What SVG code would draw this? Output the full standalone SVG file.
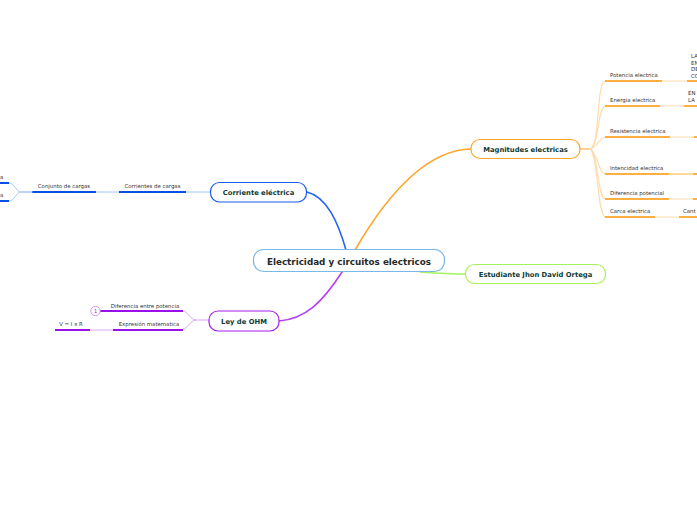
<svg xmlns="http://www.w3.org/2000/svg" width="697" height="520" viewBox="0 0 697 520">
<style>
text{font-family:"DejaVu Sans",Verdana,sans-serif}
.n{font-size:6.800px;font-weight:bold;fill:#0d3b36;text-anchor:middle}
.s{font-size:5.400px;fill:#333}
.m{text-anchor:middle}
.box{fill:#fff;stroke-width:1.2}
.c{fill:none;stroke-linecap:round}
.u{fill:none;stroke-width:2}
.l{fill:none;stroke-width:1}
.o{stroke:#ffaf40}.ol{stroke:#ffdcae}
.b{stroke:#0a50e6}.bl{stroke:#a9c4fb}
.p{stroke:#9a10e8}.pl{stroke:#d9a6f7}
</style>
<rect width="697" height="520" fill="#fff"/>
<g id="connectors">
<path class="c" d="M346 250C338 222 327 197 307 192" stroke="#2563f0" stroke-width="1.600"/>
<path class="c" d="M355 250C380 207 420 150 471 149" stroke="#ffa52b" stroke-width="1.600"/>
<path class="c" d="M342 272C322 303 305 319 279 321" stroke="#b341f5" stroke-width="1.600"/>
<path class="c" d="M420 272C435 273 450 274 465 274" stroke="#a5f25c" stroke-width="1.500"/>
<path class="c" d="M580 149H590" stroke="#ffa52b" stroke-width="1.200"/>
<g class="c ol" stroke-width="1.200">
<path d="M590 149C600 146 596 85 605 81"/>
<path d="M590 149C599 146 597 110 605 106"/>
<path d="M590 149C598 147 598 139 605 137"/>
<path d="M590 149C597 151 598 172 605 174"/>
<path d="M590 149C598 152 597 195 605 199"/>
<path d="M590 149C598 153 597 213 605 217"/>
</g>
<path class="u o" d="M605 81H662"/><path class="l ol" d="M662 81H687"/><path class="u o" d="M687 81H697"/>
<path class="u o" d="M605 106H660"/><path class="l ol" stroke-width="2" d="M660 106H684"/><path class="u o" d="M684 106H697"/>
<path class="u o" d="M605 137H670"/><path class="l ol" stroke-width="2" d="M670 137H694"/><path class="u o" d="M694 137H697"/>
<path class="u o" d="M605 174H669"/><path class="l o" d="M669 174H693"/><path class="u o" d="M693 174H697"/>
<path class="u o" d="M605 199H669"/><path class="l ol" stroke-width="2" d="M669 199H693"/><path class="u o" d="M693 199H697"/>
<path class="u o" d="M605 217H655"/><path class="l ol" stroke-width="2" d="M655 217H679"/><path class="u o" d="M679 217H697"/>
<path class="l bl" d="M186 192H210"/><path class="u b" d="M119 192H186"/>
<path class="l bl" d="M96 192H119"/><path class="u b" d="M32 192H96"/>
<path class="c bl" d="M32 192H21C16 192 15 183 9 183"/><path class="c bl" d="M32 192H21C16 192 15 201 9 201"/>
<path class="u b" d="M0 183H9"/><path class="u b" d="M0 201H9"/>
<path class="l pl" d="M209 320H196"/>
<path class="c pl" d="M196 320C190 320 188 311 183 311"/><path class="c pl" d="M196 320C190 320 188 329 183 329"/>
<path class="u p" d="M100 311H183"/><path class="u p" d="M113 330H183"/>
<path class="l pl" stroke-width="1.500" d="M90 330H113"/><path class="u p" d="M55 330H90"/>
</g>
<g id="central"><rect class="box" x="253.500" y="249.500" width="191" height="22" rx="10" stroke="#7ab8e8" stroke-width="2"/><text x="349" y="264.500" class="n" style="font-size:8.800px;fill:#1f2a2a">Electricidad y circuitos electricos</text></g>
<g id="corriente"><rect class="box" x="210.500" y="182.500" width="96" height="19.500" rx="9" stroke="#1a5cf0"/><text x="258.500" y="195" class="n">Corriente eléctrica</text></g>
<g id="magnitudes"><rect class="box" x="471" y="139.500" width="109" height="19" rx="9" stroke="#ffa52b"/><text x="525.500" y="152" class="n">Magnitudes electricas</text></g>
<g id="ley"><rect class="box" x="209" y="311" width="70" height="20" rx="9" stroke="#a51cf0"/><text x="244" y="324" class="n">Ley de OHM</text></g>
<g id="estudiante"><rect class="box" x="465.500" y="264.500" width="140" height="19" rx="9" stroke="#a5f25c"/><text x="535.500" y="277" class="n">Estudiante Jhon David Ortega</text></g>
<g id="potencia"><text class="s" x="610" y="77">Potencia electrica</text><text class="s" x="691" y="58">LA</text><text class="s" x="691" y="65">EN</text><text class="s" x="691" y="71">DE</text><text class="s" x="691" y="77.500">CO</text></g>
<g id="energia"><text class="s" x="610" y="102">Energia electrica</text><text class="s" x="688" y="95">EN</text><text class="s" x="688" y="102">LA</text></g>
<g id="resistencia"><text class="s" x="610" y="133">Resistencia electrica</text></g>
<g id="intensidad"><text class="s" x="610" y="170">Intencidad electrica</text></g>
<g id="diferencia"><text class="s" x="610" y="195">Diferencia potencial</text></g>
<g id="carga"><text class="s" x="610" y="213">Carca electrica</text><text class="s" x="683" y="213">Cant</text></g>
<g id="corrientes"><text class="s m" x="152.500" y="188">Corrientes de cargas</text></g>
<g id="conjunto"><text class="s m" x="64" y="188">Conjunto de cargas</text></g>
<g id="carga1"><text class="s" x="0" y="179">a</text></g>
<g id="carga2"><text class="s" x="0" y="197">a</text></g>
<g id="dif"><text class="s m" x="145" y="308">Diferencia entre potencia</text><circle cx="95.500" cy="311" r="4.700" fill="#fff" stroke="#cf8af5" stroke-width=".9"/><text x="95.500" y="313" font-size="5" fill="#9a10e8" text-anchor="middle">1</text></g>
<g id="expresion"><text class="s m" x="149" y="326">Expresión matematica</text></g>
<g id="formula"><text class="s m" x="71" y="326">V = I x R</text></g>
</svg>
